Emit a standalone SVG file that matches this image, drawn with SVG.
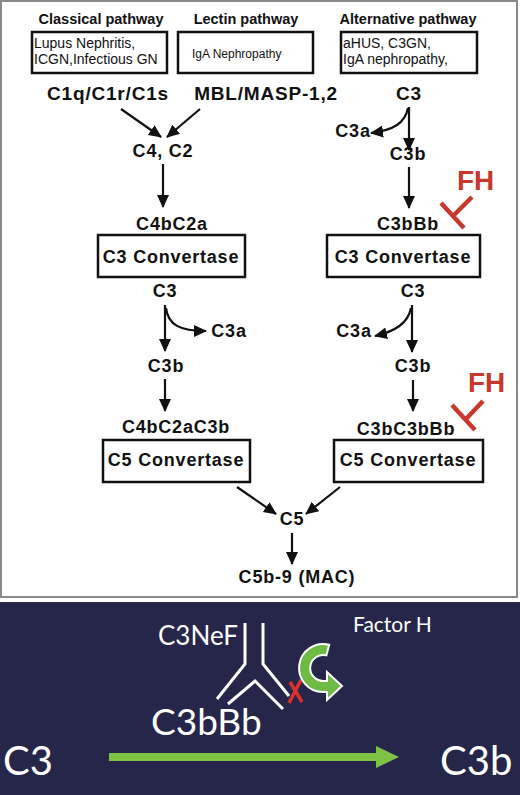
<svg xmlns="http://www.w3.org/2000/svg" width="520" height="795" viewBox="0 0 520 795">
<defs>
<style>
.h{font-family:"Liberation Sans",Arial,sans-serif;font-weight:bold;font-size:14.5px;fill:#111;text-anchor:middle}
.d{font-family:"Liberation Sans",Arial,sans-serif;font-size:14px;fill:#111}
.l{font-family:"Liberation Sans",Arial,sans-serif;font-weight:bold;font-size:18px;letter-spacing:0.8px;fill:#111;text-anchor:middle}
.fh{font-family:"Liberation Sans",Arial,sans-serif;font-weight:bold;font-size:28px;fill:#c9382d}
.box{fill:#fff;stroke:#111;stroke-width:2.5}
.ar{fill:none;stroke:#111;stroke-width:2.2;marker-end:url(#ah)}
.inh{stroke:#c9382d;stroke-width:4.5;fill:none}
.w{font-family:Lato,"Open Sans",sans-serif;fill:#fff}
.ab{stroke:#fff;stroke-width:3;fill:none}
</style>
<marker id="ah" markerUnits="userSpaceOnUse" markerWidth="14" markerHeight="14" viewBox="0 0 14 14" refX="12" refY="7" orient="auto">
<path d="M0,1 L13,7 L0,13 Z" fill="#111"/>
</marker>
</defs>
<rect x="1" y="1" width="516" height="596" fill="#fff" stroke="#8a8a8a" stroke-width="2"/>
<rect x="0" y="602" width="520" height="193" fill="#25264a"/>

<g id="classical-header">
<text class="h" x="101" y="24">Classical pathway</text>
<rect class="box" x="32" y="32" width="135" height="41"/>
<text class="d" x="34" y="48">Lupus Nephritis,</text>
<text class="d" x="34" y="64">ICGN,Infectious GN</text>
</g>
<g id="lectin-header">
<text class="h" x="246" y="24">Lectin pathway</text>
<rect class="box" x="178" y="32" width="135" height="41"/>
<text class="d" x="192" y="58" style="font-size:12px">IgA Nephropathy</text>
</g>
<g id="alternative-header">
<text class="h" x="408" y="24">Alternative pathway</text>
<rect class="box" x="341" y="32" width="136" height="41"/>
<text class="d" x="343" y="48">aHUS, C3GN,</text>
<text class="d" x="343" y="64">IgA nephropathy,</text>
</g>

<g id="c1"><text class="l" x="108" y="100" style="font-size:19px">C1q/C1r/C1s</text></g>
<g id="mbl"><text class="l" x="266" y="100" style="font-size:19px">MBL/MASP-1,2</text></g>
<g id="c4c2"><text class="l" x="163" y="157">C4, C2</text></g>
<g id="c4bc2a"><text class="l" x="172" y="230">C4bC2a</text></g>
<g id="c3conv-left"><rect class="box" x="98" y="235" width="147" height="42"/><text class="l" x="171" y="263">C3 Convertase</text></g>
<g id="c3-left"><text class="l" x="165" y="297">C3</text></g>
<g id="c3a-left"><text class="l" x="229" y="337">C3a</text></g>
<g id="c3b-left"><text class="l" x="166" y="372">C3b</text></g>
<g id="c4bc2ac3b"><text class="l" x="176" y="433">C4bC2aC3b</text></g>
<g id="c5conv-left"><rect class="box" x="103" y="440" width="147" height="42"/><text class="l" x="176" y="466">C5 Convertase</text></g>

<g id="c3-alt"><text class="l" x="409" y="100" style="font-size:19px">C3</text></g>
<g id="c3a-alt1"><text class="l" x="353" y="137">C3a</text></g>
<g id="c3b-alt1"><text class="l" x="408" y="160">C3b</text></g>
<g id="c3bbb"><text class="l" x="408" y="230">C3bBb</text></g>
<g id="fh1"><text class="fh" x="457" y="190">FH</text><path class="inh" d="M472,197 L453,216 M441,203 L464,228"/></g>
<g id="c3conv-right"><rect class="box" x="327" y="235" width="153" height="42"/><text class="l" x="403" y="263">C3 Convertase</text></g>
<g id="c3-alt2"><text class="l" x="413" y="297">C3</text></g>
<g id="c3a-alt2"><text class="l" x="354" y="337">C3a</text></g>
<g id="c3b-alt2"><text class="l" x="413" y="372">C3b</text></g>
<g id="c3bc3bbb"><text class="l" x="406" y="435">C3bC3bBb</text></g>
<g id="fh2"><text class="fh" x="468" y="392">FH</text><path class="inh" d="M483,401 L466,419 M452,405 L475,430"/></g>
<g id="c5conv-right"><rect class="box" x="334" y="440" width="149" height="42"/><text class="l" x="408" y="466">C5 Convertase</text></g>

<g id="c5"><text class="l" x="292" y="525">C5</text></g>
<g id="mac"><text class="l" x="297" y="583">C5b-9 (MAC)</text></g>

<g id="connectors">
<path class="ar" d="M121,109 L161,137"/>
<path class="ar" d="M200,109 L167,137"/>
<path class="ar" d="M163,164 L163,207"/>
<path class="ar" d="M165,305 L165,351"/>
<path class="ar" d="M166,308 C168,325 180,331 206,331"/>
<path class="ar" d="M165,379 L165,411"/>
<path class="ar" d="M409,107 L409,150"/>
<path class="ar" d="M408,108 C405,123 394,130 371,133"/>
<path class="ar" d="M409,167 L409,208"/>
<path class="ar" d="M412,305 L412,352"/>
<path class="ar" d="M411,308 C408,323 396,331 375,336"/>
<path class="ar" d="M413,380 L413,411"/>
<path class="ar" d="M237,487 L276,514"/>
<path class="ar" d="M340,487 L306,514"/>
<path class="ar" d="M292,533 L292,564"/>
</g>

<g id="bottom-panel">
<text class="w" x="158" y="645" style="font-size:26px">C3NeF</text>
<text class="w" x="353" y="632" style="font-size:21px">Factor H</text>
<g id="antibody">
<path class="ab" d="M245,623 L245,664 L217,699"/>
<path class="ab" d="M263,623 L263,664 L289,696"/>
<path class="ab" d="M228,704 L255,681 L283,709"/>
</g>
<path d="M290,682 L302,702 M301,680 L289,703" stroke="#d8332a" stroke-width="3.5" fill="none"/>
<path d="M329.2,644.8 A24,24 0 1,0 323,692 L327,692 L327,700 L342,686 L327,672 L327,681 L323,681 A13,13 0 1,1 326.4,655.4 Z" fill="#6dbb45" stroke="#fff" stroke-width="2"/>
<text class="w" x="151" y="735" style="font-size:37px">C3bBb</text>
<text class="w" x="3" y="775" style="font-size:40px">C3</text>
<text class="w" x="440" y="775" style="font-size:40px">C3b</text>
<path d="M109,757 L378,757" stroke="#7dc242" stroke-width="8"/>
<path d="M376,746 L399,757 L376,768 Z" fill="#7dc242"/>
</g>
</svg>
